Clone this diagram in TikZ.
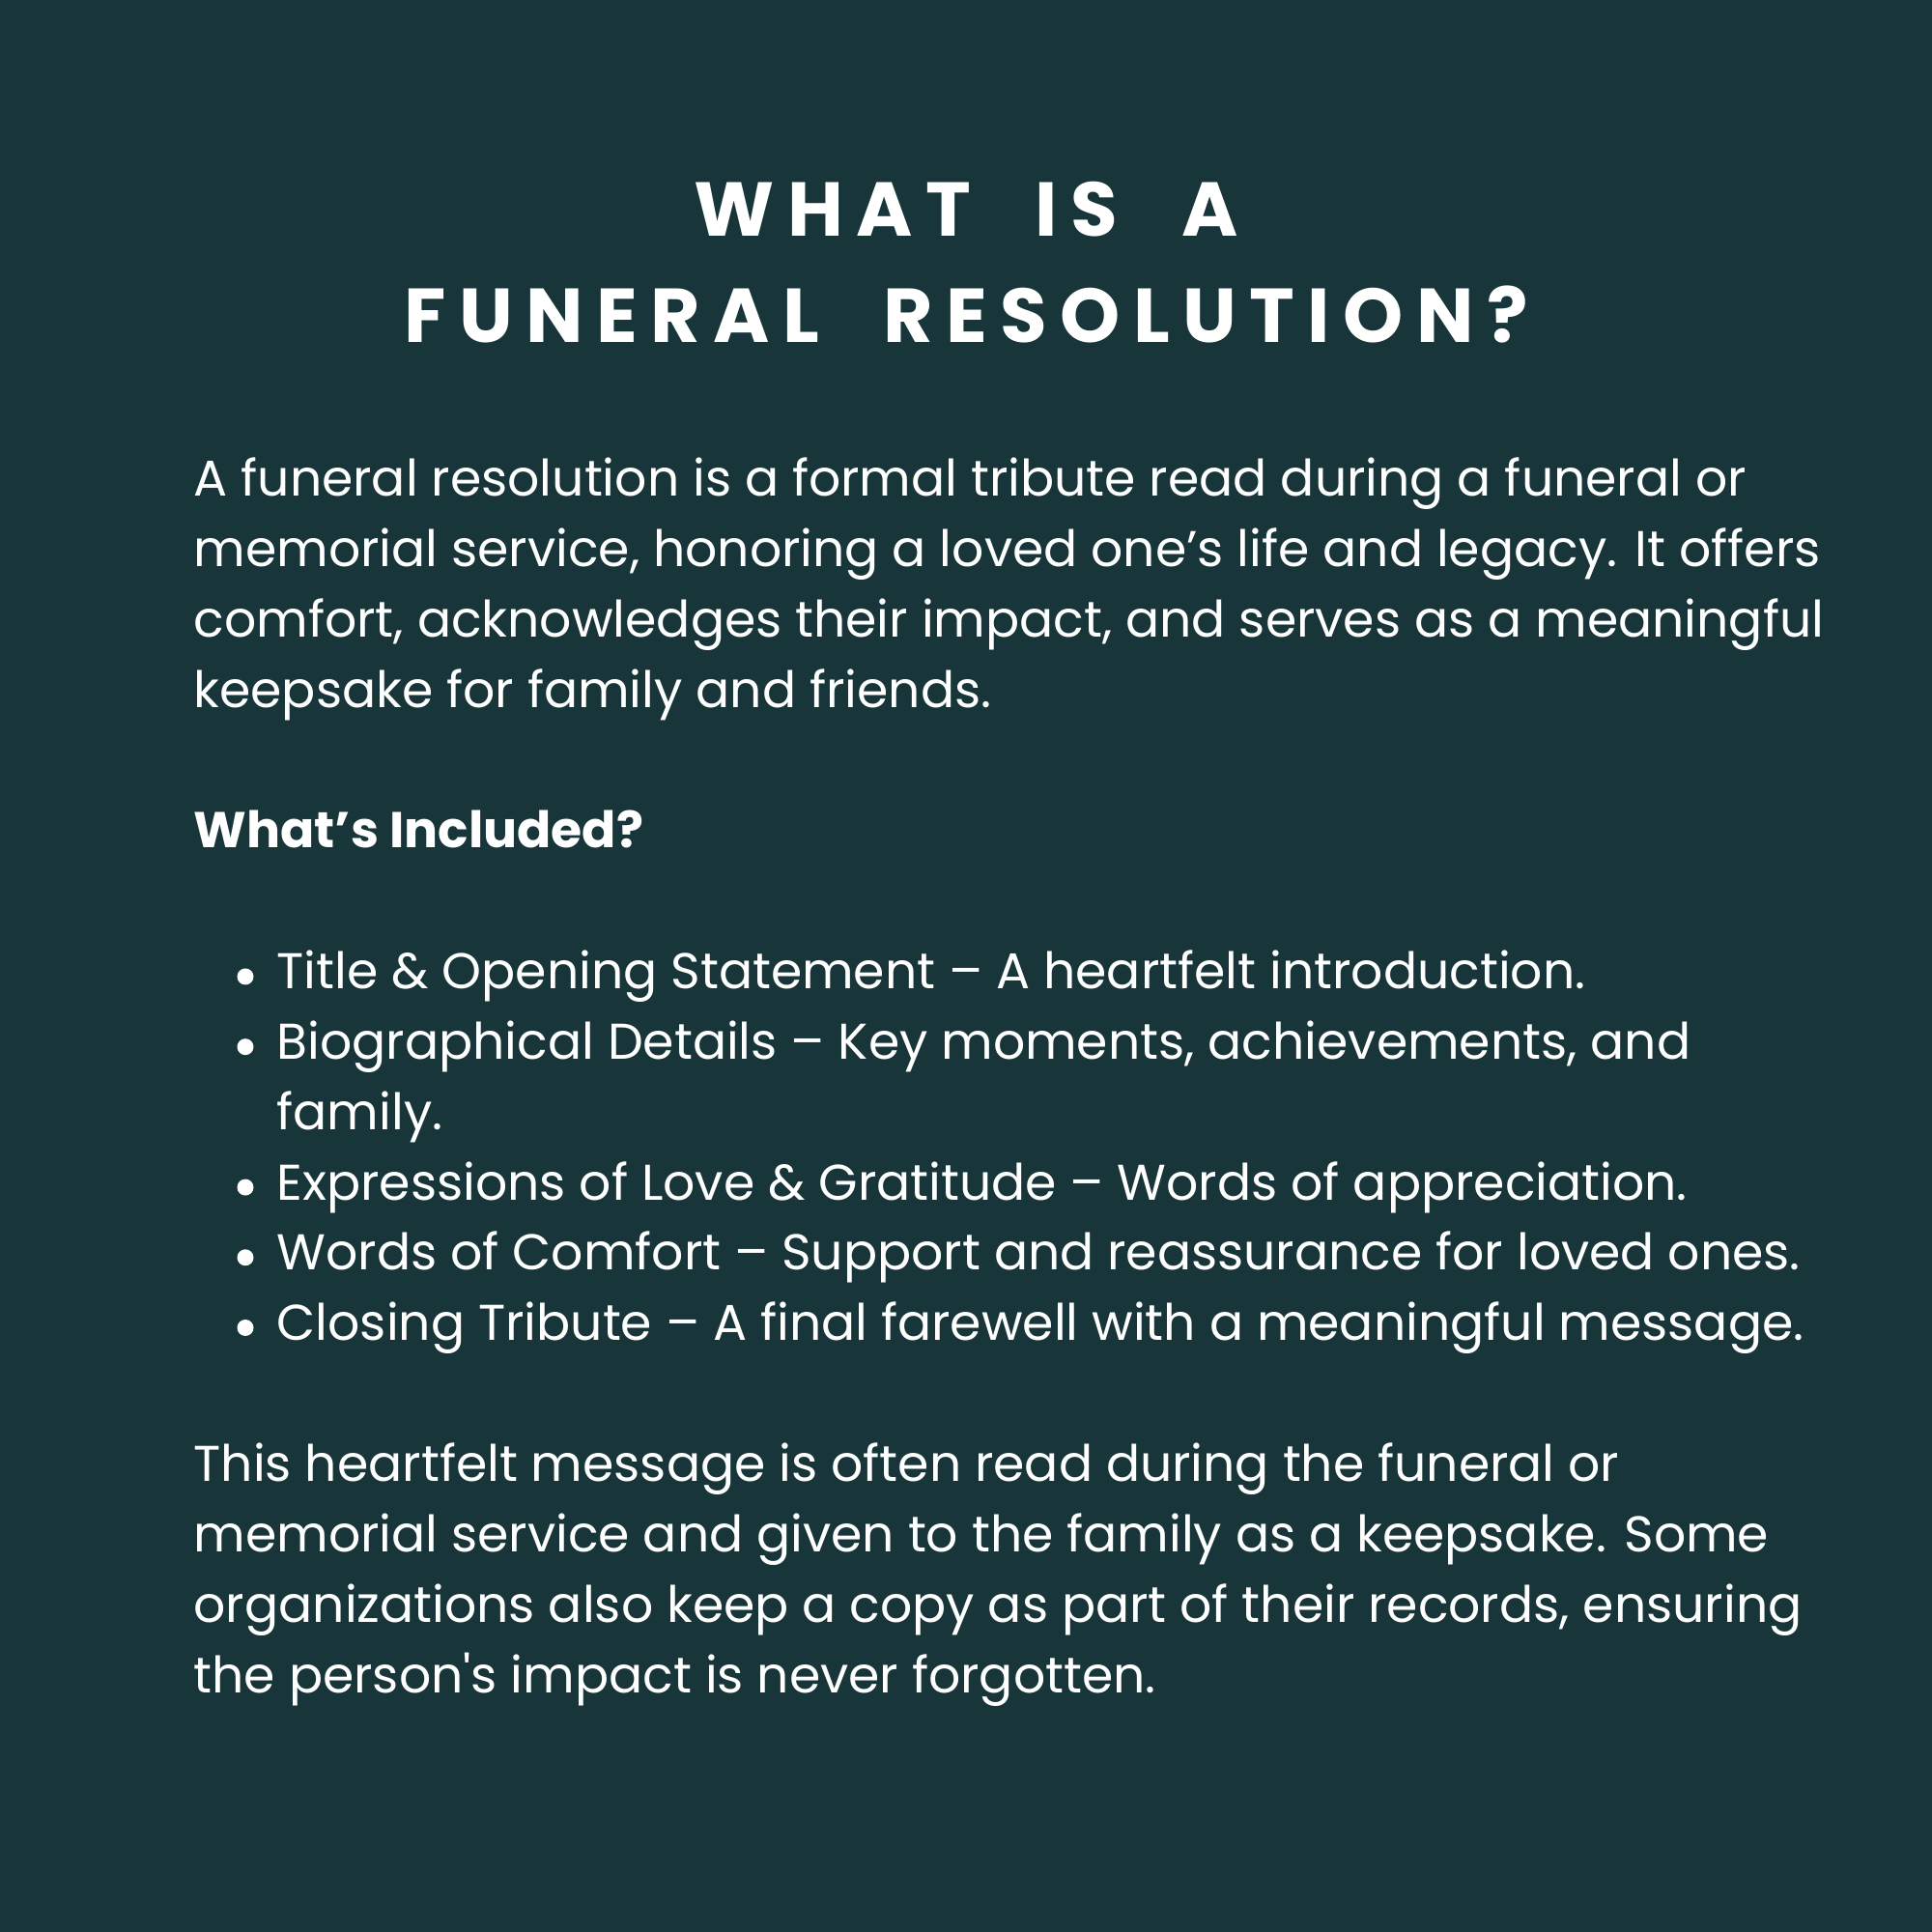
\documentclass[tikz,border=0pt]{standalone}
\usepackage{fontspec}
\setmainfont{Poppins}
\newfontfamily\titlefont[LetterSpace=17,WordSpace=2.2]{Poppins}
\definecolor{bgteal}{HTML}{18363A}
\tikzset{
  txtline/.style={anchor=base west, text=white, inner sep=0pt, font=\fontsize{14.8}{18}\selectfont},
  titleline/.style={anchor=base, text=white, inner sep=0pt, font=\titlefont\bfseries\fontsize{22.5}{27}\selectfont},
  bulletdot/.style={circle, fill=white, inner sep=0pt, minimum size=0.17cm}
}
\begin{document}
\begin{tikzpicture}
  \fill[bgteal] (0,0) rectangle (20,20);
  \useasboundingbox (0,0) rectangle (20,20);
  % title
  \node[titleline] (t1) at (10,17.55) {WHAT IS A};
  \node[titleline] (t2) at (10,16.45) {FUNERAL RESOLUTION?};
  % first paragraph
  \foreach \txt [count=\i] in {A funeral resolution is a formal tribute read during a funeral or,
      {memorial service, honoring a loved one’s life and legacy. It offers},
      {comfort, acknowledges their impact, and serves as a meaningful},
      keepsake for family and friends.}
    \node[txtline] (p\i) at (2,14.86-0.727*\i+0.727) {\txt};
  \node[txtline, font=\bfseries\fontsize{14.8}{18}\selectfont] (inc) at (2,11.225) {What’s Included?};
  % bullet list
  \foreach \txt/\row [count=\i] in {Title \& Opening Statement – A heartfelt introduction./0,
      {Biographical Details – Key moments, achievements, and}/1,
      Expressions of Love \& Gratitude – Words of appreciation./3,
      Words of Comfort – Support and reassurance for loved ones./4,
      Closing Tribute – A final farewell with a meaningful message./5}
  {
    \node[txtline] (b\i) at (2.86,9.76-0.727*\row) {\txt};
    \node[bulletdot] (d\i) at (2.54,9.76-0.727*\row+0.13) {};
  }
  \node[txtline] (b2b) at (2.86,9.76-0.727*2) {family.};
  % closing paragraph
  \foreach \txt [count=\i] in {This heartfelt message is often read during the funeral or,
      memorial service and given to the family as a keepsake. Some,
      {organizations also keep a copy as part of their records, ensuring},
      the person\textquotesingle s impact is never forgotten.}
    \node[txtline] (q\i) at (2,4.66-0.727*\i+0.727) {\txt};
\end{tikzpicture}
\end{document}
